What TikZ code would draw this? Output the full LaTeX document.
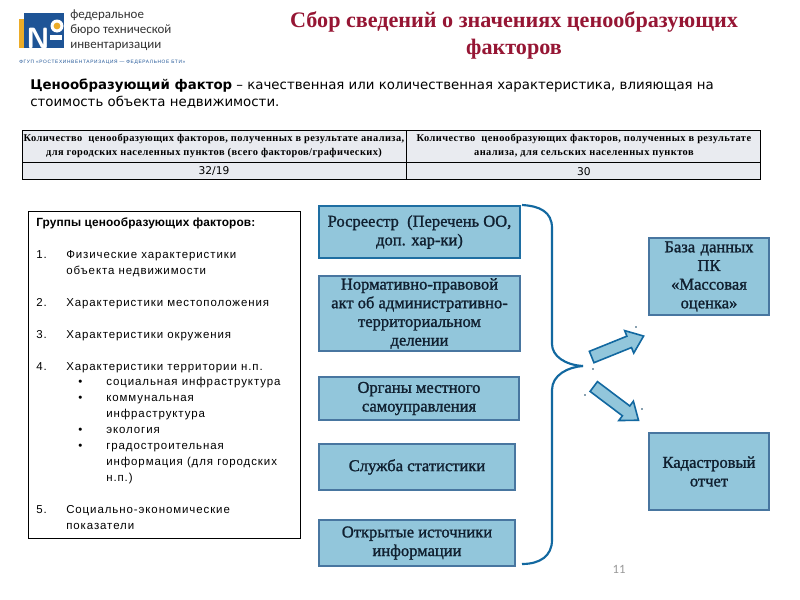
\documentclass[tikz,border=0pt]{standalone}
\usepackage{fontspec}
\setmainfont{Liberation Serif}
\newfontfamily\dejavu{DejaVu Sans}
\newfontfamily\carlito{Carlito}
\newfontfamily\arialsp[LetterSpace=8]{Liberation Sans}
\newfontfamily\arialbd[LetterSpace=1]{Liberation Sans Bold}
\newfontfamily\boxfont[FakeBold=1.3]{Liberation Serif}
\newfontfamily\headfont[LetterSpace=4]{Liberation Serif Bold}
\newfontfamily\subfont[LetterSpace=14]{Liberation Sans}
\usepackage{xcolor}
\usetikzlibrary{arrows.meta,positioning,shapes.arrows}
\definecolor{qfill}{RGB}{146,198,219}
\definecolor{qline}{RGB}{30,110,162}
\definecolor{qmute}{RGB}{72,118,160}
\definecolor{qbrace}{RGB}{18,104,160}
\definecolor{qtitle}{RGB}{150,22,52}
\definecolor{qhead}{RGB}{233,235,240}
\definecolor{qlogo}{RGB}{30,84,150}
\definecolor{qgold}{RGB}{236,172,40}
\definecolor{qtext}{RGB}{16,32,48}
\begin{document}
\begin{tikzpicture}[
  x=0.75pt,y=-0.75pt,
  srcbox/.style={draw=qmute,line width=1.2pt,fill=qfill,align=center,inner sep=1pt,text=qtext,
    font=\boxfont\fontsize{12.4}{14}\selectfont},
  outbox/.style={srcbox,minimum width=90pt,minimum height=57.75pt,text width=84pt},
  headcell/.style={draw=black,line width=0.7pt,fill=qhead,align=center,inner sep=0pt,
    font=\headfont\fontsize{7.8}{10.5}\selectfont},
  valcell/.style={draw=black,line width=0.7pt,fill=qhead,align=center,inner sep=0pt,
    font=\dejavu\fontsize{8}{10}\selectfont},
  item/.style={anchor=base west,inner sep=0pt,font=\arialsp\fontsize{8.6}{10}\selectfont},
  blockarrow/.style={single arrow,draw=qbrace,line width=1.2pt,fill=qfill,inner xsep=0pt,inner ysep=4pt,
    minimum width=17pt,single arrow head extend=4.5pt,single arrow tip angle=76,
    minimum height=42pt},
  speck/.style={fill=qline!60!black,circle,inner sep=0pt,minimum size=1.2pt}
]
\useasboundingbox (0,0) rectangle (800,600);
\fill[white] (0,0) rectangle (800,600);

% logo
\fill[qgold] (19,19) rectangle (24,48);
\fill[qlogo] (24,13) rectangle (64,48);
\node[anchor=base,inner sep=0pt,text=white,font=\sffamily\bfseries\fontsize{22}{22}\selectfont] (logoN) at (38,48) {N};
\fill[white] (57,26) circle (6.5);
\fill[qgold] (57,26) circle (3.4);
\fill[white] (50,35) rectangle (62,40);
\node[anchor=west,inner sep=0pt,align=left,text=black!80,font=\carlito\fontsize{9.7}{11.3}\selectfont] (logotext) at (70,30)
  {федеральное\\бюро технической\\инвентаризации};
\node[anchor=west,inner sep=0pt,text=qlogo,font=\subfont\fontsize{3.6}{4}\selectfont] (logosub) at (19,62)
  {ФГУП «РОСТЕХИНВЕНТАРИЗАЦИЯ — ФЕДЕРАЛЬНОЕ БТИ»};

% title
\node[align=center,inner sep=0pt,text=qtitle,font=\fontsize{16.6}{20.3}\selectfont\bfseries] (title) at (514,35)
  {Сбор сведений о значениях ценообразующих\\факторов};

% definition
\node[anchor=north west,inner sep=0pt,align=left,font=\dejavu\fontsize{10}{12.2}\selectfont] (defn) at (30,79)
  {{\bfseries Ценообразующий фактор} – качественная или количественная характеристика, влияющая на\\
   стоимость объекта недвижимости.};

% table
\node[headcell,minimum width=288pt,minimum height=24pt] (h1) at (214,146)
  {Количество\ \ ценообразующих факторов, полученных в результате анализа,\\
   для городских населенных пунктов (всего факторов/графических)};
\node[headcell,minimum width=265.5pt,minimum height=24pt,right=0pt of h1] (h2)
  {Количество\ \ ценообразующих факторов, полученных в результате\\
   анализа, для сельских населенных пунктов};
\node[valcell,minimum width=288pt,minimum height=12.75pt,below=0pt of h1] (v1) {32/19};
\node[valcell,minimum width=265.5pt,minimum height=12.75pt,below=0pt of h2] (v2) {30};

% groups
\node[draw=black,line width=0.7pt,minimum width=204pt,minimum height=245.25pt,inner sep=0pt] (groups) at (164,374.5) {};
\node[item,font=\arialbd\fontsize{8.9}{10}\selectfont] (gt) at (36,226) {Группы ценообразующих факторов:};
\foreach \yy/\num/\txt in {258/1./Физические характеристики,306/2./Характеристики местоположения,
    338/3./Характеристики окружения,370/4./Характеристики территории н.п.,513/5./Социально-экономические}{
  \node[item] at (36,\yy) {\num};
  \node[item] at (66,\yy) {\txt};
}
\foreach \yy/\txt in {274/объекта недвижимости,529/показатели}{
  \node[item] at (66,\yy) {\txt};
}
\foreach \yy/\txt in {385/социальная инфраструктура,401/коммунальная,433/экология,449/градостроительная}{
  \node[item] at (78,\yy) {\textbullet};
  \node[item] at (106,\yy) {\txt};
}
\foreach \yy/\txt in {417/инфраструктура,465/информация (для городских,481/н.п.)}{
  \node[item] at (106,\yy) {\txt};
}

% sources
\node[srcbox,draw=qline,minimum width=150.75pt,minimum height=39pt] (rr) at (419.5,232) {Росреестр\ \ (Перечень ОО,\\доп. хар-ки)};
\node[srcbox,minimum width=150.75pt,minimum height=56.25pt] (npa) at (419.5,313.5) {Нормативно-правовой\\акт об административно-\\территориальном\\делении};
\node[srcbox,minimum width=150pt,minimum height=32.25pt] (oms) at (419,398.5) {Органы местного\\самоуправления};
\node[srcbox,minimum width=147pt,minimum height=34.5pt] (stat) at (417,467) {Служба статистики};
\node[srcbox,minimum width=147pt,minimum height=34.5pt] (open) at (417,543) {Открытые источники\\информации};

% results
\node[outbox] (bd) at (709,276.5) {База данных\\ПК\\«Массовая\\оценка»};
\node[outbox] (kad) at (709,471.5) {Кадастровый\\отчет};

% brace
\coordinate (btop) at (522,205);
\coordinate (bmid) at (583,366);
\coordinate (bbot) at (522,564);
\draw[qbrace,line width=1.6pt] (btop) .. controls (540,206) and (552,212) .. (552,228)
  -- (552,344) .. controls (552,356) and (565,365) .. (bmid);
\draw[qbrace,line width=1.6pt] (bmid) .. controls (568,367) and (552,375) .. (552,390)
  -- (552,540) .. controls (552,556) and (540,564) .. (bbot);

% arrows
\node[blockarrow,rotate=22] (aup) at (614,348) {};
\node[blockarrow,rotate=-37] (adown) at (613,401) {};
\foreach \px/\py in {636/327,593/369,585/395,642/409}{
  \node[speck] at (\px,\py) {};
}

\node[inner sep=0pt,text=black!40,font=\carlito\fontsize{9.5}{10}\selectfont] (pagenum) at (619,569) {11};
\end{tikzpicture}
\end{document}
